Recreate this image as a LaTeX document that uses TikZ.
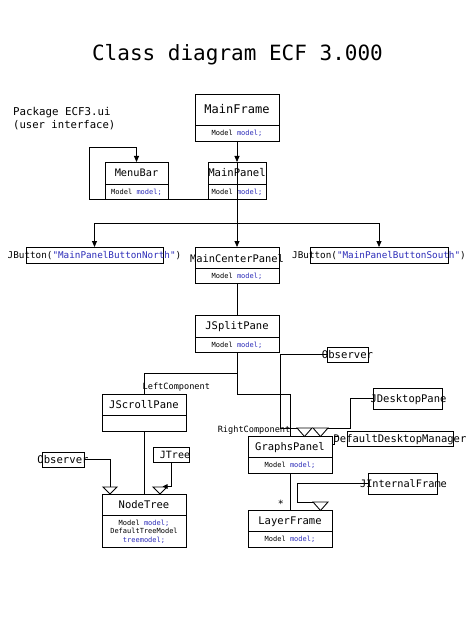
\documentclass[tikz,border=0pt]{standalone}
\usepackage{fontspec}
\setmainfont{DejaVu Sans Mono}
\setmonofont{DejaVu Sans Mono}
\renewcommand*{\familydefault}{\ttdefault}
\usetikzlibrary{arrows.meta,calc}
\definecolor{mblue}{RGB}{45,45,185}
\begin{document}
\begin{tikzpicture}[x=1pt,y=-1pt,
  box/.style={draw, line width=0.85pt, inner sep=0pt, outer sep=0pt, anchor=north west},
  cname/.style={font=\ttfamily\fontsize{10.5}{12}\selectfont, inner sep=0pt, text height=7.65pt, text depth=0pt},
  attr/.style={font=\ttfamily\fontsize{7}{8.6}\selectfont, inner sep=0pt, text height=5.1pt, text depth=0pt, align=center},
  lbl/.style={font=\ttfamily\fontsize{8.6}{10}\selectfont, inner sep=0pt, text height=6.3pt, text depth=0pt},
  conn/.style={line width=0.85pt},
  arr/.style={conn, -{Triangle[length=6pt,width=5pt]}},
  tri/.style={draw, line width=0.85pt, fill=white}
]
\fill[white] (0,0) rectangle (474,631);
\useasboundingbox (0,0) rectangle (474,631);

% title and package
\node[font=\ttfamily\fontsize{21}{25}\selectfont, inner sep=0pt, anchor=base] (title) at (237.5,61) {Class diagram ECF 3.000};
\node[font=\ttfamily\fontsize{10.8}{12}\selectfont, inner sep=0pt, anchor=base west] (pkg1) at (13,116) {Package ECF3.ui};
\node[font=\ttfamily\fontsize{10.6}{12}\selectfont, inner sep=0pt, anchor=base west] (pkg2) at (13,129) {(user interface)};

% MainFrame
\node[box, minimum width=84pt, minimum height=31pt] (mf) at (195,94) {};
\node[box, minimum width=84pt, minimum height=16pt] (mfB) at (195,125) {};
\node[cname, font=\ttfamily\fontsize{12}{14}\selectfont, text height=8.75pt] (mfT) at (mf.center) {MainFrame};
\node[attr] (mfA) at (mfB.center) {Model \textcolor{mblue}{model;}};

% MenuBar
\node[box, minimum width=63pt, minimum height=22pt] (mb) at (105,162) {};
\node[box, minimum width=63pt, minimum height=15pt] (mbB) at (105,184) {};
\node[cname, font=\ttfamily\fontsize{10.3}{12}\selectfont] (mbT) at (mb.center) {MenuBar};
\node[attr] (mbA) at (mbB.center) {Model \textcolor{mblue}{model;}};

% MainPanel
\node[box, minimum width=58pt, minimum height=22pt] (mp) at (208,162) {};
\node[box, minimum width=58pt, minimum height=15pt] (mpB) at (208,184) {};
\node[cname, font=\ttfamily\fontsize{10.6}{12}\selectfont] (mpT) at (mp.center) {MainPanel};
\node[attr] (mpA) at (mpB.center) {Model \textcolor{mblue}{model;}};

% JButtons
\node[box, minimum width=137pt, minimum height=16pt] (jbn) at (26,247) {};
\node[cname, font=\ttfamily\fontsize{9.3}{11}\selectfont, text height=6.8pt] (jbnT) at (jbn.center) {JButton(\textcolor{mblue}{"MainPanelButtonNorth"})};
\node[box, minimum width=138pt, minimum height=16pt] (jbs) at (310,247) {};
\node[cname, font=\ttfamily\fontsize{9.3}{11}\selectfont, text height=6.8pt] (jbsT) at (jbs.center) {JButton(\textcolor{mblue}{"MainPanelButtonSouth"})};

% MainCenterPanel
\node[box, minimum width=84pt, minimum height=21pt] (mcp) at (195,247) {};
\node[box, minimum width=84pt, minimum height=15pt] (mcpB) at (195,268) {};
\node[cname, font=\ttfamily\fontsize{10.4}{12}\selectfont] (mcpT) at ([yshift=-1pt]mcp.center) {MainCenterPanel};
\node[attr] (mcpA) at (mcpB.center) {Model \textcolor{mblue}{model;}};

% JSplitPane
\node[box, minimum width=84pt, minimum height=22pt] (jsp) at (195,315) {};
\node[box, minimum width=84pt, minimum height=15pt] (jspB) at (195,337) {};
\node[cname] (jspT) at (jsp.center) {JSplitPane};
\node[attr] (jspA) at (jspB.center) {Model \textcolor{mblue}{model;}};

% Observer (right)
\node[box, minimum width=41pt, minimum height=15pt] (obsr) at (327,347) {};
\node[cname, font=\ttfamily\fontsize{10.6}{12}\selectfont] (obsrT) at (obsr.center) {Observer};

% JScrollPane
\node[box, minimum width=84pt, minimum height=21pt] (jsc) at (102,394) {};
\node[box, minimum width=84pt, minimum height=16pt] (jscB) at (102,415) {};
\node[cname] (jscT) at (jsc.center) {JScrollPane};

% JDesktopPane
\node[box, minimum width=69pt, minimum height=21pt] (jdp) at (373,388) {};
\node[cname] (jdpT) at ([xshift=1pt]jdp.center) {JDesktopPane};

% DefaultDesktopManager
\node[box, minimum width=106pt, minimum height=15pt] (ddm) at (347,431) {};
\node[cname] (ddmT) at (ddm.center) {DefaultDesktopManager};

% GraphsPanel
\node[box, minimum width=84pt, minimum height=21pt] (gp) at (248,436) {};
\node[box, minimum width=84pt, minimum height=16pt] (gpB) at (248,457) {};
\node[cname] (gpT) at (gp.center) {GraphsPanel};
\node[attr] (gpA) at (gpB.center) {Model \textcolor{mblue}{model;}};

% JTree
\node[box, minimum width=36pt, minimum height=15pt] (jt) at (153,447) {};
\node[cname, font=\ttfamily\fontsize{10}{12}\selectfont, text height=7.3pt] (jtT) at ([xshift=4pt]jt.center) {JTree};

% Observer (left)
\node[box, minimum width=42pt, minimum height=15pt] (obsl) at (42,452) {};
\node[cname, font=\ttfamily\fontsize{10.6}{12}\selectfont] (obslT) at (obsl.center) {Observer};

% NodeTree
\node[box, minimum width=84pt, minimum height=21pt] (nt) at (102,494) {};
\node[box, minimum width=84pt, minimum height=32pt] (ntB) at (102,515) {};
\node[cname] (ntT) at (nt.center) {NodeTree};
\node[font=\ttfamily\fontsize{7}{8.6}\selectfont, inner sep=0pt, align=center] (ntA) at ([yshift=-0.5pt]ntB.center) {Model \textcolor{mblue}{model;}\\DefaultTreeModel\\\textcolor{mblue}{treemodel;}};

% JInternalFrame
\node[box, minimum width=69pt, minimum height=21pt] (jif) at (368,473) {};
\node[cname, font=\ttfamily\fontsize{10.3}{12}\selectfont] (jifT) at ([xshift=1pt]jif.center) {JInternalFrame};

% LayerFrame
\node[box, minimum width=84pt, minimum height=21pt] (lf) at (248,510) {};
\node[box, minimum width=84pt, minimum height=16pt] (lfB) at (248,531) {};
\node[cname] (lfT) at (lf.center) {LayerFrame};
\node[attr] (lfA) at (lfB.center) {Model \textcolor{mblue}{model;}};

% ---------- connectors ----------
\coordinate (bus) at (237,223);
\draw[arr] (mfB.south) -- (mp.north);
\draw[conn] (mp.north) -- (bus);
\draw[arr] (bus) -| (jbn.north);
\draw[arr] (bus) -| (jbs.north);
\draw[arr] (bus) -- (mcp.north);

\coordinate (mbbend) at (89,147);
\draw[arr] (mpB.south) -| (mbbend) -| (mb.north);

\draw[conn] (mcpB.south) -- (jsp.north);

\coordinate (lc) at (237,373);
\coordinate (rc) at (237,394);
\draw[conn] (jspB.south) -- (rc) -| (gp.north);
\draw[conn] (lc) -| (jsc.north);
\node[lbl, anchor=west] (lcl) at (142.5,386) {LeftComponent};
\node[lbl, anchor=east] (rcl) at (290.5,429) {RightComponent};

% GraphsPanel generalisations
\coordinate (t1) at (304.5,428);
\coordinate (t2) at (320.5,428);
\coordinate (obsbend) at (280,428);
\coordinate (jdpbend) at (350,428);
\draw[conn] (obsr.west) -| (obsbend) -- (t1);
\draw[conn] (jdp.west) -| (jdpbend) -- (t2);
\draw[tri] ($(t1)+(-7.5,0)$) -- ($(t1)+(7.5,0)$) -- ($(t1)+(0,8.5)$) -- cycle;
\draw[tri] ($(t2)+(-7.5,0)$) -- ($(t2)+(7.5,0)$) -- ($(t2)+(0,8.5)$) -- cycle;

% GraphsPanel - DefaultDesktopManager
\coordinate (dd1) at (334.5,444);
\coordinate (dd2) at (334.5,436);
\coordinate (dd3) at (337.5,436);
\draw[conn] (gp.east |- dd1) -- (dd1) -- (dd2) -- (dd3);

% GraphsPanel - LayerFrame
\draw[conn] (gpB.south) -- (lf.north);
\node[font=\ttfamily\fontsize{10}{12}\selectfont, inner sep=0pt, anchor=base] (star) at (281,507.5) {*};

\coordinate (t3) at (320.5,502);
\coordinate (jifbend) at (297,502);
\draw[conn] (jif.west) -| (jifbend) -- (t3);
\draw[tri] ($(t3)+(-7.5,0)$) -- ($(t3)+(7.5,0)$) -- ($(t3)+(0,8.5)$) -- cycle;

% NodeTree
\draw[conn] (jscB.south) -- (nt.north);
\coordinate (t4) at (110,487);
\draw[conn] (obsl.east) -| (t4);
\draw[tri] ($(t4)+(-7,0)$) -- ($(t4)+(7,0)$) -- ($(t4)+(0,7)$) -- cycle;
\coordinate (t5) at (160,487);
\draw[tri] ($(t5)+(-7,0)$) -- ($(t5)+(7,0)$) -- ($(t5)+(0,7)$) -- cycle;
\coordinate (jtbend) at (171,486.5);
\coordinate (jtend) at (162.5,486.5);
\draw[conn, -{Triangle[length=5pt,width=4.5pt]}] (jt.south) -- (jtbend) -- (jtend);
\end{tikzpicture}
\end{document}
